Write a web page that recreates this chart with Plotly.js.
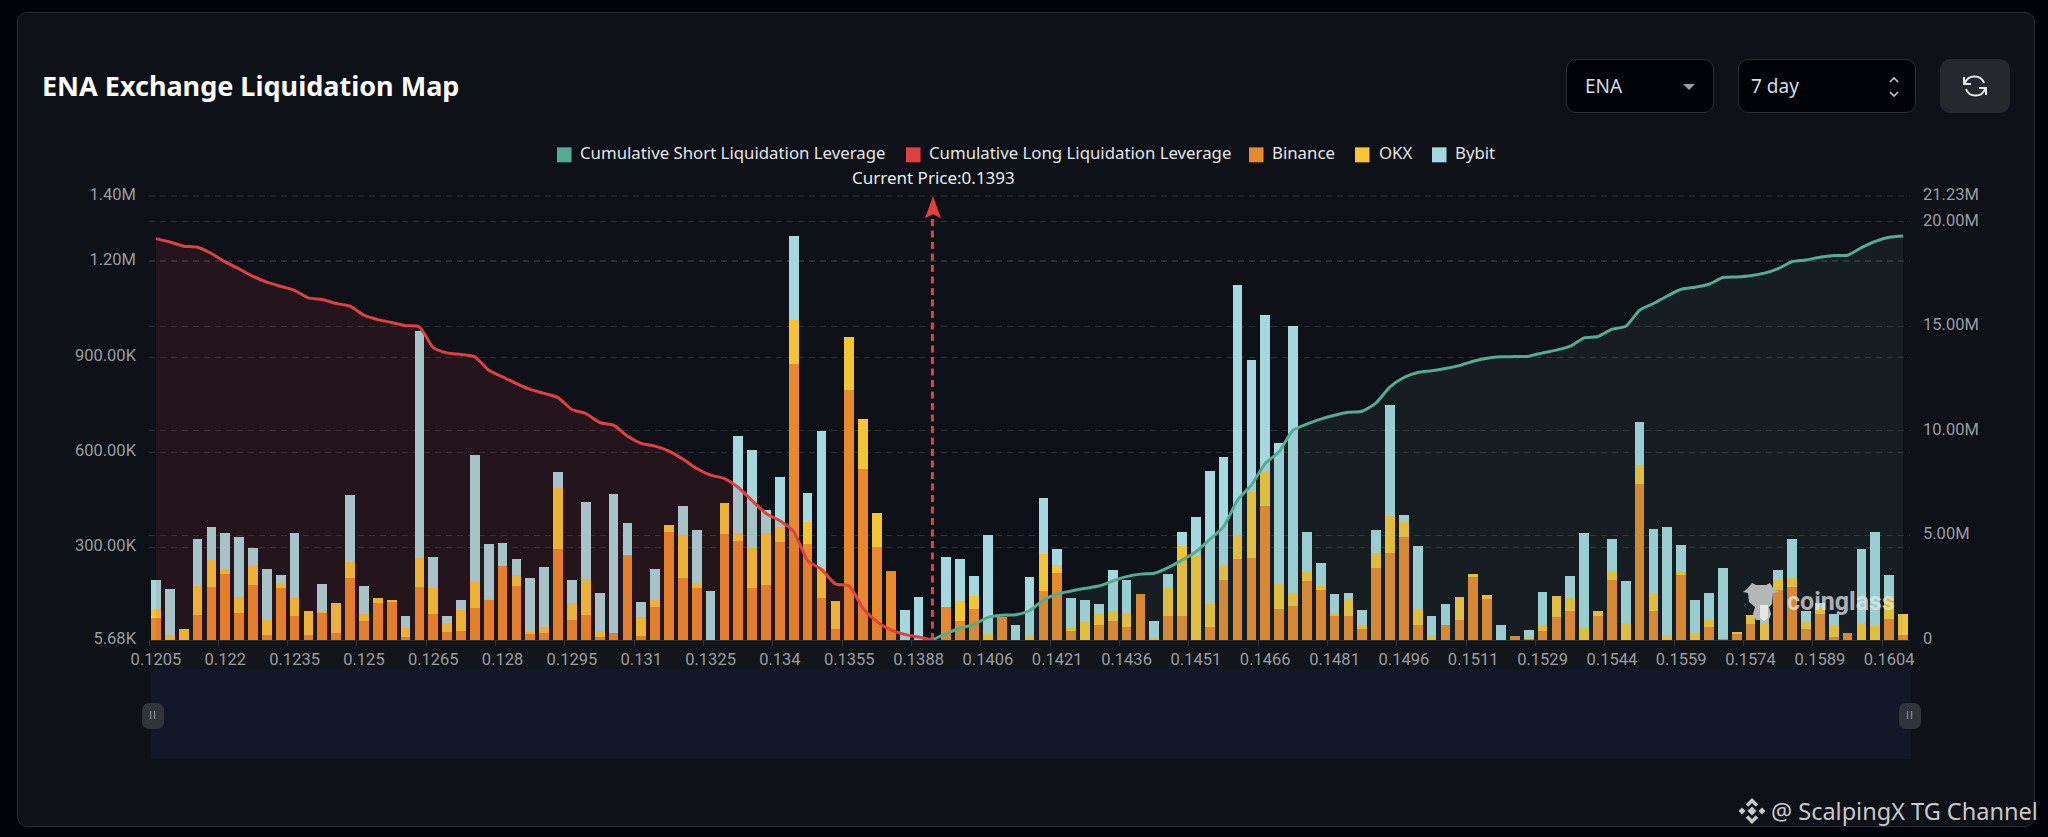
<!DOCTYPE html>
<html>
<head>
<meta charset="utf-8">
<script src="https://cdn.plot.ly/plotly-3.0.1.min.js"></script>
<style>
html,body{margin:0;padding:0;width:2048px;height:837px;overflow:hidden;background:#01020a;font-family:"Noto Sans",sans-serif;}
.abs{position:absolute;box-sizing:border-box;}
#card{left:17px;top:12px;width:2018px;height:815px;background:#0e1117;border:1px solid #2a2d33;border-radius:10px;}
.sel{top:59px;height:54px;background:#020308;border:1px solid #2b2e35;border-radius:10px;color:#d6dde4;font-size:19px;line-height:52px;}
#strip{left:149px;top:640px;width:1762px;height:29px;background:#12151b;}
#zoomband{left:151px;top:669px;width:1760px;height:90px;background:#121828;}
.handle{top:703px;width:22px;height:26px;background:#30343b;border-radius:7px;color:#8f99a6;font-size:11px;line-height:26px;text-align:center;letter-spacing:1px;font-family:Roboto,sans-serif;}
#chart{left:0;top:0;width:2048px;height:837px;}
#wm{left:1771px;top:792px;color:#c9c9c9;font-size:23.5px;line-height:38px;white-space:nowrap;}
</style>
</head>
<body>
<div id="card" class="abs"></div>
<div id="strip" class="abs"></div>
<div id="zoomband" class="abs"></div>
<div class="abs handle" style="left:142px">II</div>
<div class="abs handle" style="left:1899px">II</div>
<div class="abs sel" style="left:1566px;width:148px;padding-left:18px">ENA
  <svg class="abs" style="left:115px;top:23px" width="14" height="8"><path d="M1 1H13L7 7Z" fill="#9a9ea4"/></svg>
</div>
<div class="abs sel" style="left:1738px;width:178px;padding-left:12px">7 day
  <svg class="abs" style="left:148px;top:16px" width="14" height="22"><path d="M3 6L7 2L11 6M3 16L7 20L11 16" fill="none" stroke="#c4c8cc" stroke-width="1.6"/></svg>
</div>
<div class="abs" style="left:1940px;top:59px;width:70px;height:54px;background:#25282d;border-radius:10px">
  <svg class="abs" style="left:22px;top:14px" width="26" height="26" viewBox="0 0 26 26"><path d="M3 10A10 9.5 0 0 1 22 10M23 16A10 9.5 0 0 1 4 16" fill="none" stroke="#e4e6e8" stroke-width="2"/><path d="M2 4V11H9M24 22V15H17" fill="none" stroke="#e4e6e8" stroke-width="2"/></svg>
</div>
<div id="chart" class="abs"></div>
<svg class="abs" style="left:1738px;top:797px" width="28" height="28" viewBox="0 0 28 28"><g fill="none" stroke="#c9c9c9" stroke-width="3.4"><path d="M9 8.500L14 3.500L19 8.500"/><path d="M9 19.500L14 24.500L19 19.500"/></g><g fill="#c9c9c9"><path d="M0.500 14L4 10.500L7.500 14L4 17.500Z"/><path d="M27.500 14L24 10.500L20.500 14L24 17.500Z"/><path d="M14 9.500L18.500 14L14 18.500L9.500 14Z"/></g></svg>
<svg class="abs" style="left:1742px;top:580px" width="40" height="44" viewBox="0 0 40 44"><path d="M6 8L10 3L14 5H24L28 3L31 8L37 12L31 13L30 24L27 27L29 34L26 42L22 40H14L11 34L13 27L7 22L6 13L1 12Z" fill="#b4b6b8"/><path d="M18 25H26V38L22 41L18 38Z" fill="#e6e8e8"/></svg>
<div id="wm" class="abs">@ ScalpingX TG Channel</div>
<script>
const categories = ["0.1205","0.1208","0.1211","0.1214","0.1217","0.122","0.1223","0.1226","0.1229","0.1232","0.1235","0.1238","0.1241","0.1244","0.1247","0.125","0.1253","0.1256","0.1259","0.1262","0.1265","0.1268","0.1271","0.1274","0.1277","0.128","0.1283","0.1286","0.1289","0.1292","0.1295","0.1298","0.1301","0.1304","0.1307","0.131","0.1313","0.1316","0.1319","0.1322","0.1325","0.1328","0.1331","0.1334","0.1337","0.134","0.1343","0.1346","0.1349","0.1352","0.1355","0.1358","0.1367","0.1376","0.1382","0.1388","0.1393","0.1397","0.14","0.1403","0.1406","0.1409","0.1412","0.1415","0.1418","0.1421","0.1424","0.1427","0.143","0.1433","0.1436","0.1439","0.1442","0.1445","0.1448","0.1451","0.1454","0.1457","0.146","0.1463","0.1466","0.1469","0.1472","0.1475","0.1478","0.1481","0.1484","0.1487","0.149","0.1493","0.1496","0.1499","0.1502","0.1505","0.1508","0.1511","0.1514","0.1518","0.1522","0.1525","0.1529","0.1532","0.1535","0.1538","0.1541","0.1544","0.1547","0.155","0.1553","0.1556","0.1559","0.1562","0.1565","0.1568","0.1571","0.1574","0.1577","0.158","0.1583","0.1586","0.1589","0.1592","0.1595","0.1598","0.1601","0.1604","0.1607"];
// bar values, thousands
const binance = [75.5,6.7,5.7,82.8,171.3,210.9,89,178.6,22.4,168.2,79.6,21.3,91.1,27.6,198.4,65,120.3,124.4,15,171.3,86.9,30.7,33.8,105.7,131.7,238,173.4,23.4,27.6,289,68.2,83.8,14,27.6,270.3,18.2,109.9,343.2,200.5,167.2,5.7,338,314,167.2,176.5,312,868.2,305.7,137,40,787,539,295.3,222.4,5.7,5.7,3,109.9,66.1,102.6,6.7,78.6,5.7,5.7,159.9,216.1,34.9,5.7,51.5,66.1,45.3,149.5,5.7,80.7,80.7,5.7,47.4,192.2,258.8,262,423.4,102.6,110.9,190.1,162,81.7,81.7,41.1,229.7,276.5,327.6,53.6,5.7,53.6,68.2,203.6,133.8,5.7,18.2,7.8,32.8,76.5,97.4,5.7,80.7,192.2,5.7,493.2,97.4,6.7,208.8,5.7,47.4,7.8,24.4,55.7,5.7,162,172.4,39,87,14,28.6,5.7,5.7,70.3,21.3];
const okx = [26,13.5,34.4,92.7,85.4,15.6,50,62.5,46.9,16.7,58.3,74,1,92.7,50,22.9,16.7,7.3,27.1,90.6,82.3,27.1,64.6,84.4,1,1,34.4,8.3,19.8,190.6,52.1,113.5,18.8,0,1,58.3,21.9,20.8,132.3,15.6,0,94.8,27.1,126,164.6,47.9,139.6,67.7,94.8,88.5,166.7,158.3,106.3,0,0,0,0,0,60.4,41.7,16.7,0,0,16.7,115.6,25,7.3,55.2,36.5,31.3,42.7,0,6.3,86.5,218.8,265.6,71.9,44.8,74,207.3,108.3,77.1,42.7,29.2,12.5,6.3,51,12.5,46.9,115.6,46.9,47.9,14.6,0,71.9,9.4,12.5,0,0,8.3,18.8,66.7,39.6,36.5,15.6,27.1,52.1,58.3,54.2,13.5,9.4,22.9,20.8,0,7.3,28.1,52.1,31.3,27.1,22.9,20.8,37.5,0,54.2,43.8,70.8,65.6];
const bybit = [91.7,145.8,0,144.8,101,112.5,188.5,51,157.3,25,201,0,87.5,1,210.4,87.5,0,0,37.5,710.4,94.8,21.9,32.3,392.7,171.9,70.8,52.1,168.8,187.5,51,74,238.5,118.8,433.3,101,47.9,95.8,1,92.7,166.7,152.1,0,301,305.2,71.9,156.3,261.5,92.7,426,0,0,0,0,0,95,135,0,156.3,132.3,62.5,309.4,0,47.9,181.3,175,47.9,95.8,70.8,31.3,127.1,105.2,0,53.1,43.8,44.8,117.7,414.6,339.6,783.4,410.4,490.6,442.7,834.4,125,72.9,60.4,20.8,44.8,72.9,346.9,21.9,196.9,59.4,63.5,0,0,0,45.8,0,19.8,104.2,0,69.8,299,0,101,131.3,135.4,200,339.6,83.3,101,84.4,224,0,0,52.1,30.2,120.8,35.4,14.6,36.5,0,231.3,293.8,67.7,0];
// cumulative lines, millions
const cumLong = [19.19,19.03,18.83,18.78,18.48,18.08,17.74,17.39,17.11,16.91,16.72,16.36,16.28,16.09,15.96,15.53,15.32,15.18,15.03,14.97,13.98,13.73,13.65,13.54,12.9,12.58,12.26,11.98,11.79,11.59,11.02,10.83,10.4,10.27,9.75,9.4,9.27,9.03,8.65,8.2,7.88,7.72,7.29,6.66,6.05,5.7,5.18,3.79,3.38,2.68,2.58,1.51,0.88,0.48,0.27,0.14,0];
const cumShort = [0,0.32,0.56,0.75,1.08,1.18,1.21,1.4,1.91,2.2,2.34,2.47,2.58,2.82,3.03,3.15,3.19,3.46,3.82,4.22,4.81,5.42,6.69,7.41,8.44,9,10.03,10.32,10.56,10.75,10.89,10.94,11.34,12.1,12.55,12.79,12.87,12.98,13.12,13.33,13.47,13.54,13.55,13.57,13.73,13.86,14.05,14.45,14.51,14.86,15,15.77,16.09,16.45,16.77,16.87,17.01,17.33,17.36,17.42,17.54,17.76,18.09,18.17,18.3,18.38,18.4,18.76,19.06,19.26,19.32];
const currentPrice = "0.1393";
const leftTickVals = [5.68,295.4,592.3,889,1191,1394];
const leftTickText = ["5.68K","300.00K","600.00K","900.00K","1.20M","1.40M"];
const rightTickVals = [0,5,10,15,20,21.23];
const rightTickText = ["0","5.00M","10.00M","15.00M","20.00M","21.23M"];
const legendItems = [["Cumulative Short Liquidation Leverage","#56ab93",557,577.5],["Cumulative Long Liquidation Leverage","#dc4240",906,926.5],["Binance","#e88a2b",1249,1270],["OKX","#f3c736",1355,1376.5],["Bybit","#a4d8dc",1432,1453]];

const PL=149,PR=1910,PT=195.7,PB=640;
const px=x=>(x-PL)/(PR-PL), py=y=>(PB-y)/(PB-PT);
const tickFont={family:"Roboto, sans-serif",size:16.5,color:"#9a9ea3"};
const gridColor="#2a2e32", gridDash="6px,5px";
const grid={showgrid:true,gridcolor:gridColor,griddash:gridDash,gridwidth:1.2,zeroline:false};

const bar=(name,y,color)=>({type:"bar",name,x:categories,y,marker:{color,line:{width:0}},xaxis:"x",yaxis:"y"});
const long_x=categories.slice(0,cumLong.length), short_x=categories.slice(categories.length-cumShort.length);
const traces=[
 bar("Binance",binance,"#e88a2b"),
 bar("OKX",okx,"#f2c537"),
 bar("Bybit",bybit,"#a4d8dc"),
 {type:"scatter",mode:"lines",name:"Cumulative Long Liquidation Leverage",x:long_x,y:cumLong,yaxis:"y2",fill:"tozeroy",fillcolor:"rgba(188,48,55,0.126)",line:{color:"#dc4240",width:3,shape:"spline",smoothing:0.6}},
 {type:"scatter",mode:"lines",name:"Cumulative Short Liquidation Leverage",x:short_x,y:cumShort,yaxis:"y2",fill:"tozeroy",fillcolor:"rgba(84,132,121,0.122)",line:{color:"#56ab93",width:3,shape:"spline",smoothing:0.6}}
];

const annotations=legendItems.map(it=>({xref:"paper",yref:"paper",x:px(it[3]),y:py(152.5),xanchor:"left",yanchor:"middle",text:it[0],showarrow:false,font:{family:"Noto Sans, sans-serif",size:16.8,color:"#e4e6e8"}}));
annotations.push({xref:"paper",yref:"paper",x:px(933),y:py(177),xanchor:"center",yanchor:"middle",text:"Current Price:"+currentPrice,showarrow:false,font:{family:"Noto Sans, sans-serif",size:17,color:"#eceef0"}});
annotations.push({xref:"paper",yref:"paper",x:px(1785),y:py(601),xanchor:"left",yanchor:"middle",text:"<b>coinglass</b>",showarrow:false,font:{family:"Roboto, sans-serif",size:25,color:"rgba(228,232,232,0.74)"}});

const shapes=legendItems.map(it=>({type:"rect",xref:"paper",yref:"paper",x0:px(it[2]),x1:px(it[2]+14.5),y0:py(147),y1:py(162),fillcolor:it[1],line:{width:0}}));
shapes.push({type:"line",xref:"paper",yref:"paper",x0:0,x1:1,y0:1,y1:1,line:{color:gridColor,width:1.2,dash:gridDash},layer:"below"});
const priceIndex=categories.indexOf(currentPrice);
shapes.push({type:"line",xref:"x",yref:"paper",x0:priceIndex,x1:priceIndex,y0:0,y1:py(214),line:{color:"#dc4240",width:3,dash:"7px,4.5px"},layer:"above"});
shapes.push({type:"path",xref:"paper",yref:"paper",path:`M ${px(933)} ${py(196)} L ${px(941)} ${py(218)} L ${px(933)} ${py(214)} L ${px(925)} ${py(218)} Z`,fillcolor:"#dc4240",line:{width:0},layer:"above"});

const layout={
 width:2048,height:837,autosize:false,showlegend:false,barmode:"stack",bargap:0.3,
 paper_bgcolor:"rgba(0,0,0,0)",plot_bgcolor:"rgba(0,0,0,0)",
 margin:{l:PL,r:2048-PR,t:PT,b:837-PB,pad:0},
 title:{text:"<b>ENA Exchange Liquidation Map</b>",xref:"container",yref:"container",x:42/2048,y:1-87/837,xanchor:"left",yanchor:"middle",font:{family:"Noto Sans, sans-serif",size:27,color:"#ffffff"}},
 xaxis:{type:"category",categoryorder:"array",categoryarray:categories,range:[-0.5,categories.length-0.5],tickmode:"linear",tick0:0,dtick:5,tickson:"boundaries",ticks:"outside",ticklen:5,tickcolor:"#2f3338",showline:true,linecolor:gridColor,showgrid:false,zeroline:false,tickangle:0,tickfont:tickFont,ticklabelstandoff:4},
 yaxis:Object.assign({range:[5.68,1394],tickmode:"array",tickvals:leftTickVals,ticktext:leftTickText,ticks:"",ticklabelstandoff:12,ticklabelshift:-2,tickfont:tickFont,showline:false},grid),
 yaxis2:Object.assign({overlaying:"y",side:"right",range:[0,21.23],tickmode:"array",tickvals:rightTickVals,ticktext:rightTickText,ticks:"",ticklabelstandoff:12,ticklabelshift:-2,tickfont:tickFont,showline:false},grid),
 annotations,shapes
};
Plotly.newPlot("chart",traces,layout,{displayModeBar:false,staticPlot:true});
</script>
</body>
</html>
